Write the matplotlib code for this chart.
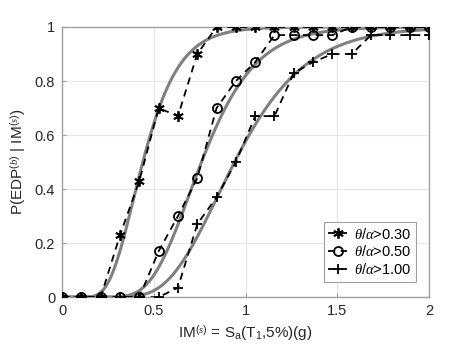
#Importing Libraries
import numpy as np
import matplotlib
matplotlib.use('Agg')
import matplotlib.pyplot as plt
from math import erf

# IM levels (20 equally spaced stripes from 0 to 2 g)
im_levels = np.linspace(0, 2, 20)

p_030 = [0, 0, 0, 0.23, 0.43, 0.70, 0.67, 0.90, 1.0, 1.0,
         1.0, 1.0, 1.0, 1.0, 1.0, 1.0, 1.0, 1.0, 1.0, 1.0]
p_050 = [0, 0, 0, 0, 0, 0.17, 0.30, 0.44, 0.70, 0.80,
         0.87, 0.97, 0.97, 0.97, 0.97, 1.0, 1.0, 1.0, 1.0, 1.0]
p_100 = [0, 0, 0, 0, 0, 0, 0.035, 0.27, 0.37, 0.50,
         0.67, 0.67, 0.83, 0.87, 0.90, 0.90, 0.97, 0.97, 0.97, 0.97]

# fitted lognormal fragility parameters (median, dispersion)
medians = [0.44, 0.76, 0.94]
betas = [0.35, 0.30, 0.32]

labels = [r'$\theta/\alpha$>0.30', r'$\theta/\alpha$>0.50', r'$\theta/\alpha$>1.00']
# matlab style asterisk, open circle, plus
markers = [(6, 2, 0), 'o', '+']

plt.rcParams['font.family'] = ['Liberation Sans', 'DejaVu Sans']
plt.rcParams['mathtext.fontset'] = 'custom'
plt.rcParams['mathtext.rm'] = 'Liberation Sans'
plt.rcParams['mathtext.it'] = 'Liberation Serif:italic'

fig = plt.figure(figsize=(4.74, 3.55), dpi=100)
ax = fig.add_axes([0.131, 0.163, 0.774, 0.761])

# fitted curves
x = np.linspace(0.001, 2, 400)
for m, b in zip(medians, betas):
    z = np.log(x / m) / b
    cdf = 0.5 * (1 + np.array([erf(v / np.sqrt(2)) for v in z]))
    ax.plot(x, cdf, color='#808080', linewidth=2.2, zorder=2)

# empirical points
handles = []
for p, mk, lab in zip([p_030, p_050, p_100], markers, labels):
    h, = ax.plot(im_levels, p, color='black', linestyle=(0, (4, 3)), linewidth=1.3,
                 marker=mk, markersize=6.5 if mk == 'o' else 7.5,
                 markerfacecolor='none' if mk == 'o' else 'black',
                 markeredgecolor='black', markeredgewidth=1.3, label=lab, zorder=3)
    handles.append(h)

ax.set_xlim(0, 2)
ax.set_ylim(0, 1)
ax.set_xticks([0, 0.5, 1, 1.5, 2])
ax.set_xticklabels(['0', '0.5', '1', '1.5', '2'])
ax.set_yticks([0, 0.2, 0.4, 0.6, 0.8, 1])
ax.set_yticklabels(['0', '0.2', '0.4', '0.6', '0.8', '1'])
ax.grid(True, color='#e6e6e6', linewidth=0.8)
ax.set_axisbelow(True)
ax.tick_params(direction='in', length=3, labelsize=10.5, colors='#a0a0a0', labelcolor='#262626', pad=5)
for s in ax.spines.values():
    s.set_color('#a0a0a0')
    s.set_linewidth(1)

ax.set_xlabel(r'IM$^{(s)}$ = S$_{\mathrm{a}}$(T$_{1}$,5%)(g)', fontsize=11, color='#262626')
ax.set_ylabel(r'P(EDP$^{(b)}$ | IM$^{(s)}$)', fontsize=11, color='#262626')

leg = ax.legend(handles=handles, loc='lower right', fontsize=10.5, handlelength=1.3,
                handletextpad=0.5, borderpad=0.3, labelspacing=0.2,
                fancybox=False, framealpha=1, bbox_to_anchor=(0.985, 0.03))
leg.get_frame().set_edgecolor('#a0a0a0')
leg.get_frame().set_linewidth(0.8)

plt.savefig('out.png', dpi=100)
